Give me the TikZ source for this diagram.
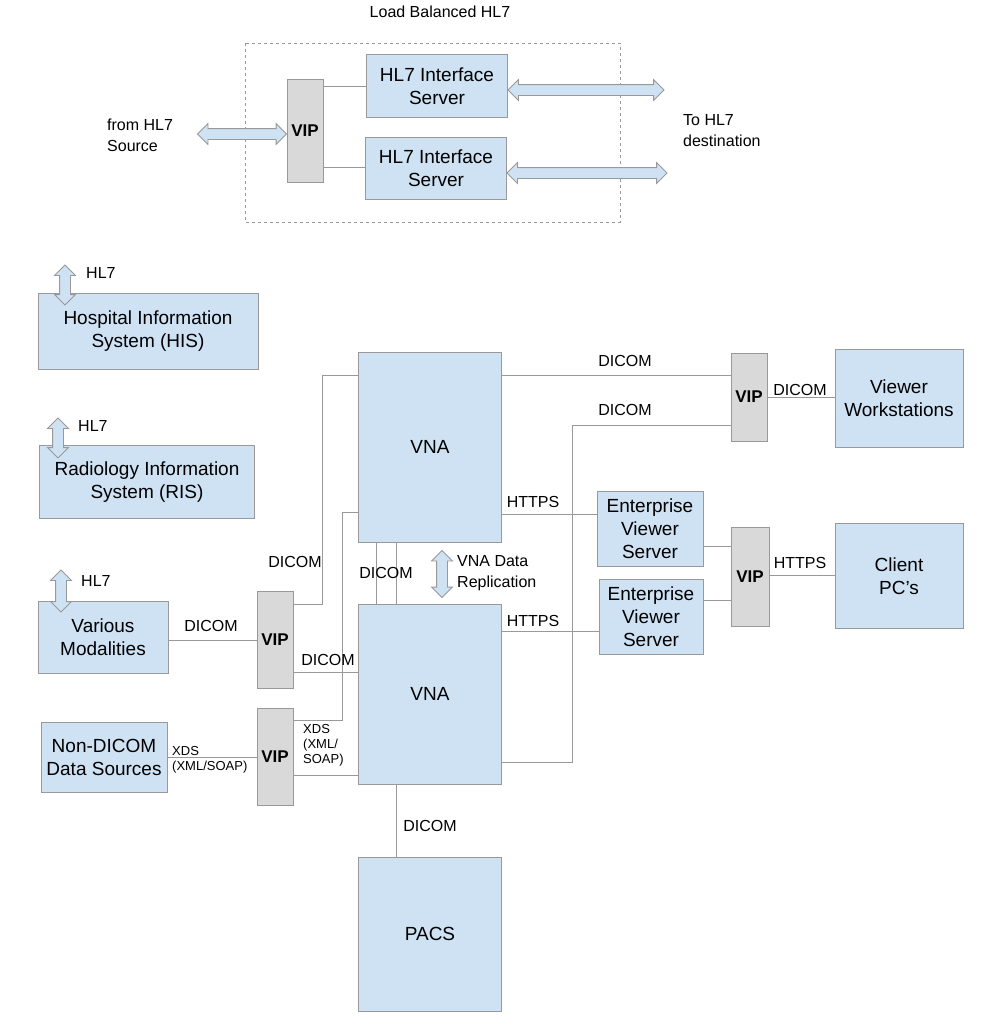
\documentclass[tikz,border=0pt]{standalone}
\usepackage{fontspec}
\setmainfont{Liberation Sans}
\usetikzlibrary{shapes.arrows}
\definecolor{boxblue}{HTML}{CFE2F3}
\definecolor{vipgray}{HTML}{D9D9D9}
\definecolor{edgegray}{HTML}{999999}

\begin{document}
\begin{tikzpicture}[x=1pt,y=-1pt,font=\fontsize{19}{23}\selectfont]
  \tikzset{box/.style={draw=edgegray,fill=boxblue,align=center,inner sep=0pt,thick},
           vip/.style={draw=edgegray,fill=vipgray,inner sep=0pt,minimum width=36,thick,font=\fontsize{17}{19}\selectfont\bfseries},
           lbl/.style={font=\fontsize{16}{21}\selectfont,align=left,inner sep=0pt},
           sml/.style={font=\fontsize{13}{15}\selectfont,align=left,inner sep=0pt},
           wire/.style={draw=edgegray,thick},
           fat/.style={double arrow,draw=edgegray,fill=boxblue,inner sep=5pt,thick,
                       double arrow head extend=5pt,double arrow head indent=0pt}}
  \useasboundingbox (0,0) rectangle (984,1020);

  % load balanced HL7
  \node[lbl] (title) at (440,12) {Load Balanced HL7};
  \draw[edgegray,dashed,thick] (245,43) rectangle (620,222);
  \node[vip,minimum height=103] (viphl7) at (305,131) {VIP};
  \node[box,minimum width=141,minimum height=63] (hl7a) at (437,86) {HL7 Interface\\Server};
  \node[box,minimum width=141,minimum height=62] (hl7b) at (436,168) {HL7 Interface\\Server};
  \draw[wire] (viphl7.east |- hl7a) -- (hl7a.west);
  \draw[wire] (viphl7.east |- 0,167) -- (hl7b.west |- 0,167);
  \node[fat,minimum height=89] (srcarrow) at (242,134) {};
  \node[fat,minimum height=156] (dsta) at (586,90) {};
  \node[fat,minimum height=160] (dstb) at (587,173) {};
  \node[lbl,anchor=west] (src) at (107,135) {from HL7\\Source};
  \node[lbl,anchor=west] (dst) at (683,131) {To HL7\\destination};

  % sources
  \node[box,minimum width=220,minimum height=76] (his) at (148,331) {Hospital Information\\System (HIS)};
  \node[box,minimum width=215,minimum height=73] (ris) at (147,482) {Radiology Information\\System (RIS)};
  \node[box,minimum width=130,minimum height=72] (mod) at (103,637) {Various\\Modalities};
  \node[box,minimum width=126,minimum height=70] (nondicom) at (104,757) {Non-DICOM\\Data Sources};
  \node[fat,rotate=90,minimum height=40] (hisarrow) at (65,285) {};
  \node[fat,rotate=90,minimum height=40] (risarrow) at (58,438) {};
  \node[fat,rotate=90,minimum height=42] (modarrow) at (61,591) {};
  \node[lbl,anchor=west] at (86,273) {HL7};
  \node[lbl,anchor=west] at (78,426) {HL7};
  \node[lbl,anchor=west] at (81,581) {HL7};

  % VIPs and VNAs
  \node[vip,minimum height=97] (vipa) at (275,640) {VIP};
  \node[vip,minimum height=97] (vipb) at (275,757) {VIP};
  \node[box,minimum width=143,minimum height=190] (vna1) at (430,447) {VNA};
  \node[box,minimum width=143,minimum height=180] (vna2) at (430,694) {VNA};
  \node[box,minimum width=143,minimum height=154] (pacs) at (430,934) {PACS};
  \node[fat,rotate=90,minimum height=47] (repl) at (442,574) {};
  \node[lbl,anchor=west] at (457,573) {VNA Data\\Replication};

  % viewers
  \node[vip,minimum height=88] (vipc) at (749,397) {VIP};
  \node[vip,minimum height=99,minimum width=38] (vipd) at (750,577) {VIP};
  \node[box,minimum width=128,minimum height=98] (viewer) at (899,398) {Viewer\\Workstations};
  \node[box,minimum width=106,minimum height=75] (evs1) at (650,529) {Enterprise\\Viewer\\Server};
  \node[box,minimum width=104,minimum height=75] (evs2) at (651,617) {Enterprise\\Viewer\\Server};
  \node[box,minimum width=128,minimum height=105] (client) at (899,576) {Client\\PC's};

  % connections
  \draw[wire] (mod.east |- 0,640) -- (vipa.west |- 0,640);
  \draw[wire] (nondicom.east) -- (vipb.west);
  \draw[wire] (vipa.east |- 0,604) -| (322,375) -- (vna1.west |- 0,375);
  \draw[wire] (vipa.east |- 0,672) -- (vna2.west |- 0,672);
  \draw[wire] (vipb.east |- 0,720) -| (342,512) -- (vna1.west |- 0,512);
  \draw[wire] (vipb.east |- 0,775) -- (vna2.west |- 0,775);
  \draw[wire] (vna1.south -| 376,0) -- (vna2.north -| 376,0);
  \draw[wire] (vna1.south -| 396,0) -- (vna2.north -| 396,0);
  \draw[wire] (vna2.south -| 396,0) -- (pacs.north -| 396,0);
  \draw[wire] (vna1.east |- 0,375) -- (vipc.west |- 0,375);
  \draw[wire] (vna2.east |- 0,762) -| (572,425) -- (vipc.west |- 0,425);
  \draw[wire] (vna1.east |- 0,514) -- (evs1.west |- 0,514);
  \draw[wire] (vna2.east |- 0,631) -- (evs2.west |- 0,631);
  \draw[wire] (vipc.east) -- (viewer.west |- vipc);
  \draw[wire] (evs1.east |- 0,546) -- (vipd.west |- 0,546);
  \draw[wire] (evs2.east |- 0,600) -- (vipd.west |- 0,600);
  \draw[wire] (vipd.east |- 0,575) -- (client.west |- 0,575);

  % labels
  \node[lbl] at (211,626) {DICOM};
  \node[sml,anchor=west] at (172,760) {XDS\\(XML/SOAP)};
  \node[lbl] at (295,562) {DICOM};
  \node[lbl] at (328,660) {DICOM};
  \node[sml,anchor=north west] at (303,724) {XDS\\(XML/\\SOAP)};
  \node[lbl] at (386,573) {DICOM};
  \node[lbl] at (430,826) {DICOM};
  \node[lbl] at (625,361) {DICOM};
  \node[lbl] at (625,410) {DICOM};
  \node[lbl] at (533,502) {HTTPS};
  \node[lbl] at (533,621) {HTTPS};
  \node[lbl] at (800,390) {DICOM};
  \node[lbl] at (800,563) {HTTPS};
\end{tikzpicture}
\end{document}
